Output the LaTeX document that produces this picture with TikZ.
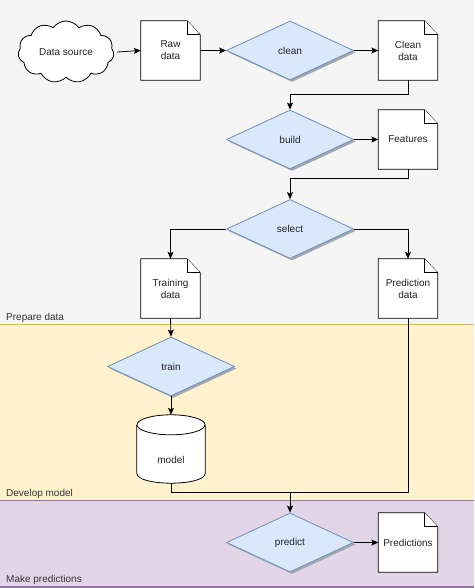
\documentclass[tikz,border=0pt]{standalone}
\usepackage{fontspec}
\setmainfont{Liberation Sans}
\usetikzlibrary{shapes.geometric,shapes.symbols,shadows,arrows.meta}
\definecolor{graybg}{HTML}{F5F5F5}
\definecolor{yelbg}{HTML}{FFF2CC}
\definecolor{yelline}{HTML}{D6B656}
\definecolor{purbg}{HTML}{E1D5E7}
\definecolor{purline}{HTML}{9673A6}
\definecolor{dfill}{HTML}{DAE8FC}
\definecolor{dline}{HTML}{6C8EBF}
\definecolor{txt}{HTML}{222222}
\definecolor{lbl}{HTML}{333333}
\newcommand{\docnode}[3]{%
  \node[docbox] (#1) at (#2) {};
  \filldraw[docline] (#1.south west) -- (#1.north west) -- ([xshift=-13pt]#1.north east) -- ([yshift=-14pt]#1.north east) -- (#1.south east) -- cycle;
  \draw[docline] ([xshift=-13pt]#1.north east) -- ([xshift=-13pt,yshift=-14pt]#1.north east) -- ([yshift=-14pt]#1.north east);
  \node[txtnode] at (#1) {#3};}
\begin{document}
\begin{tikzpicture}[x=1pt,y=-1pt,font=\fontsize{10}{12}\selectfont,
  docbox/.style={minimum width=59pt,minimum height=59pt,inner sep=0pt},
  docline/.style={draw=black,fill=white,line width=0.8pt},
  txtnode/.style={align=center,text=txt,inner sep=0pt},
  dia/.style={diamond,aspect=2.15,minimum width=127pt,minimum height=59pt,inner sep=0pt,
    draw=dline,fill=dfill,line width=0.8pt,text=txt,
    drop shadow={shadow xshift=2pt,shadow yshift=-2pt,fill=black!35,opacity=1}},
  arr/.style={-{Stealth[length=7pt,width=6pt,inset=1.5pt]},line width=0.8pt,draw=black},
  ln/.style={line width=0.8pt,draw=black},
  lab/.style={anchor=base west,text=lbl,inner sep=0pt}]
\useasboundingbox (0,0) rectangle (474,588);
% regions
\fill[graybg] (0,0) rectangle (474,324);
\fill[yelbg] (0,324) rectangle (474,500);
\fill[purbg] (0,500) rectangle (474,587);
\draw[yelline,line width=0.8pt] (0,324) -- (474,324);
\draw[purline,line width=0.8pt] (0,500) -- (474,500);
\draw[purline,line width=1.2pt] (0,587) -- (474,587);
\node[lab] (l1) at (6,320) {Prepare data};
\node[lab] (l2) at (6,496) {Develop model};
\node[lab] (l3) at (6,582) {Make predictions};
% nodes
\node[cloud,draw=black,fill=white,line width=0.8pt,cloud puffs=11,cloud puff arc=110,aspect=1.6,
  minimum width=96pt,minimum height=62pt,inner sep=0pt,text=txt] (ds) at (66,52) {Data source};
\docnode{raw}{170.5,50.5}{Raw\\data}
\node[dia] (clean) at (290,50.5) {clean};
\docnode{cd}{408,50.5}{Clean\\data}
\node[dia] (build) at (290,139.5) {build};
\docnode{feat}{408,139.5}{Features}
\node[dia] (select) at (290,229) {select};
\docnode{td}{170.5,288.5}{Training\\data}
\docnode{pd}{408,288.5}{Prediction\\data}
\node[dia] (train) at (171,366.5) {train};
% cylinder
\node[minimum width=68pt,minimum height=68pt,inner sep=0pt] (model) at (171,449) {};
\filldraw[docline] ([yshift=-10pt]model.north west) -- ([yshift=10pt]model.south west)
  .. controls ([yshift=-3.3pt]model.south west) and ([yshift=-3.3pt]model.south east) .. ([yshift=10pt]model.south east)
  -- ([yshift=-10pt]model.north east);
\filldraw[docline] ([yshift=-10pt]model.north) ellipse [x radius=34pt,y radius=10pt];
\node[txtnode] at (171,460) {model};
\node[dia] (predict) at (290,542.5) {predict};
\docnode{preds}{408,542.5}{Predictions}
% connectors
\draw[arr] ([xshift=3pt]ds.east) -- (raw.west);
\draw[arr] (raw.east) -- (clean.west);
\draw[arr] (clean.east) -- (cd.west);
\draw[arr] (cd.south) -- ++(0,14) -| (build.north);
\draw[arr] (build.east) -- (feat.west);
\draw[arr] (feat.south) -- ++(0,9) -| (select.north);
\draw[arr] (select.west) -| (td.north);
\draw[arr] (select.east) -| (pd.north);
\draw[arr] (td.south) -- (train.north);
\draw[arr] (train.south) -- (model.north);
\coordinate (j) at (290,492);
\draw[ln] (model.south) |- (j);
\draw[ln] (pd.south) |- (j);
\draw[arr] (j) -- (predict.north);
\draw[arr] (predict.east) -- (preds.west);
\end{tikzpicture}
\end{document}
